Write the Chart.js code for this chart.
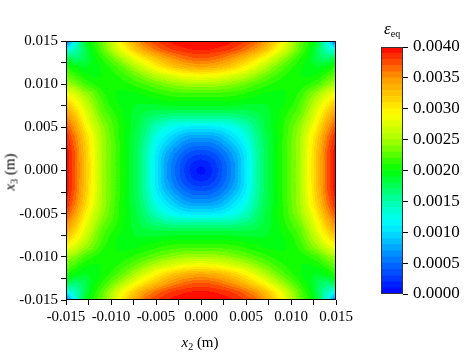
<!DOCTYPE html>
<html>
<head>
<meta charset="utf-8">
<script src="https://cdn.jsdelivr.net/npm/chart.js@4"></script>
<style>
  body { margin: 0; background: #fff; }
  #wrap { position: relative; width: 474px; height: 362px; overflow: hidden; font-family: 'Liberation Serif', 'Times New Roman', serif; color: #000; }
  canvas { position: absolute; top: 0; }
  .lbl { position: absolute; white-space: nowrap; font-size: 15px; line-height: 1; }
  .lbl sub { font-size: 10px; vertical-align: -3px; }
</style>
</head>
<body>
<div id="wrap">
  <canvas id="field" width="474" height="362" style="left:0"></canvas>
  <canvas id="cbar" width="93" height="362" style="left:381px"></canvas>
  <div class="lbl" style="left:200px; top:335px; transform:translateX(-50%)"><i>x</i><sub>2</sub> (m)</div>
  <div class="lbl" style="left:11px; top:172px; transform:translate(-50%,-50%) rotate(-90deg)"><i>x</i><sub>3</sub> (m)</div>
  <div class="lbl" style="left:384px; top:20px; font-size:17px"><i>&epsilon;</i><sub>eq</sub></div>
</div>
<script>
// grid positions of one quadrant (m), field is mirrored about x2 = 0 and x3 = 0
const quadPos = [0, 0.001, 0.002, 0.003, 0.004, 0.005, 0.006, 0.007, 0.008, 0.009, 0.010, 0.011, 0.012, 0.013, 0.014, 0.015];

// equivalent strain, in units of 1e-3
// rows: x3 = 0 .. 0.015, columns: x2 = 0 .. 0.015
const epsQuad = [
  [0.03, 0.15, 0.32, 0.52, 0.75, 1.05, 1.45, 1.70, 1.90, 2.10, 2.30, 2.50, 2.90, 3.30, 3.70, 4.00],
  [0.15, 0.21, 0.35, 0.54, 0.76, 1.05, 1.45, 1.70, 1.90, 2.10, 2.30, 2.50, 2.90, 3.30, 3.70, 4.00],
  [0.32, 0.35, 0.46, 0.62, 0.82, 1.08, 1.46, 1.70, 1.90, 2.10, 2.30, 2.50, 2.88, 3.28, 3.70, 4.00],
  [0.52, 0.54, 0.62, 0.78, 0.95, 1.16, 1.50, 1.72, 1.90, 2.10, 2.30, 2.50, 2.85, 3.25, 3.65, 3.95],
  [0.75, 0.76, 0.82, 0.95, 1.10, 1.28, 1.54, 1.75, 1.91, 2.08, 2.28, 2.48, 2.82, 3.18, 3.58, 3.90],
  [1.05, 1.05, 1.08, 1.16, 1.28, 1.42, 1.62, 1.79, 1.93, 2.08, 2.25, 2.45, 2.70, 3.05, 3.45, 3.75],
  [1.50, 1.50, 1.51, 1.52, 1.56, 1.62, 1.70, 1.81, 1.92, 2.05, 2.20, 2.35, 2.60, 2.92, 3.30, 3.60],
  [1.80, 1.80, 1.80, 1.80, 1.80, 1.80, 1.82, 1.85, 1.93, 2.02, 2.12, 2.25, 2.50, 2.80, 3.12, 3.40],
  [2.00, 2.00, 2.00, 2.00, 1.98, 1.95, 1.93, 1.92, 1.92, 1.97, 2.05, 2.20, 2.40, 2.65, 2.92, 3.15],
  [2.20, 2.20, 2.20, 2.18, 2.15, 2.10, 2.05, 2.00, 1.98, 1.98, 2.02, 2.12, 2.30, 2.45, 2.68, 2.85],
  [2.50, 2.50, 2.47, 2.42, 2.36, 2.30, 2.22, 2.15, 2.08, 2.03, 2.00, 2.02, 2.10, 2.20, 2.38, 2.50],
  [2.90, 2.88, 2.84, 2.77, 2.68, 2.58, 2.45, 2.33, 2.22, 2.12, 2.05, 2.00, 1.98, 2.03, 2.17, 2.30],
  [3.40, 3.38, 3.32, 3.23, 3.10, 2.95, 2.77, 2.58, 2.40, 2.25, 2.12, 2.02, 1.92, 1.90, 1.97, 2.10],
  [3.70, 3.68, 3.62, 3.52, 3.40, 3.25, 3.08, 2.90, 2.68, 2.47, 2.28, 2.10, 1.95, 1.75, 1.67, 1.85],
  [3.90, 3.90, 3.87, 3.82, 3.74, 3.62, 3.48, 3.28, 3.03, 2.77, 2.50, 2.25, 2.02, 1.72, 1.45, 1.25],
  [4.00, 4.00, 4.00, 3.95, 3.90, 3.80, 3.70, 3.50, 3.25, 2.95, 2.60, 2.30, 2.10, 1.85, 1.25, 0.35]
];

const axisTicks = [-0.015, -0.0125, -0.010, -0.0075, -0.005, -0.0025, 0, 0.0025, 0.005, 0.0075, 0.010, 0.0125, 0.015];
const cbarTicks = [0, 0.0005, 0.0010, 0.0015, 0.0020, 0.0025, 0.0030, 0.0035, 0.0040];
const cbarLevels = [0, 0.0001, 0.0002, 0.0003, 0.0004, 0.0005, 0.0006, 0.0007, 0.0008, 0.0009,
  0.0010, 0.0011, 0.0012, 0.0013, 0.0014, 0.0015, 0.0016, 0.0017, 0.0018, 0.0019,
  0.0020, 0.0021, 0.0022, 0.0023, 0.0024, 0.0025, 0.0026, 0.0027, 0.0028, 0.0029,
  0.0030, 0.0031, 0.0032, 0.0033, 0.0034, 0.0035, 0.0036, 0.0037, 0.0038, 0.0039, 0.0040];

// rainbow palette
const cmapStops = [0, 0.0005, 0.0010, 0.0012, 0.0015, 0.0020, 0.0025, 0.0029, 0.0035, 0.0040];
const cmapColors = [[0, 0, 255], [0, 110, 255], [0, 225, 255], [0, 255, 245], [0, 255, 170], [0, 255, 0], [170, 255, 0], [255, 255, 0], [255, 150, 0], [255, 0, 0]];

function colorAt(v) {
  if (v <= cmapStops[0]) return cmapColors[0];
  for (let i = 1; i < cmapStops.length; i++) {
    if (v <= cmapStops[i]) {
      const t = (v - cmapStops[i - 1]) / (cmapStops[i] - cmapStops[i - 1]);
      const a = cmapColors[i - 1], b = cmapColors[i];
      return [0, 1, 2].map(k => Math.round(a[k] + (b[k] - a[k]) * t));
    }
  }
  return cmapColors[cmapColors.length - 1];
}
const rgb = c => 'rgb(' + c.join(',') + ')';

// colour of the contour band a value falls in
const bandColors = cbarLevels.slice(0, -1).map((lo, i) => colorAt((lo + cbarLevels[i + 1]) / 2));
function bandColor(v) {
  let i = 0;
  while (i < bandColors.length - 1 && v >= cbarLevels[i + 1]) i++;
  return bandColors[i];
}

const FONT = "'Liberation Serif', 'Times New Roman', serif";
Chart.defaults.font.family = FONT;
Chart.defaults.color = '#000';

// value at (x2, x3): bilinear between the four surrounding grid nodes
function fieldAt(x2, x3) {
  const step = quadPos[1] - quadPos[0];
  const n = quadPos.length - 1;
  const gx = Math.min(Math.abs(x2) / step, n), gy = Math.min(Math.abs(x3) / step, n);
  const i = Math.min(Math.floor(gx), n - 1), j = Math.min(Math.floor(gy), n - 1);
  const tx = gx - i, ty = gy - j;
  const v = epsQuad[j][i] * (1 - tx) * (1 - ty) + epsQuad[j][i + 1] * tx * (1 - ty) +
            epsQuad[j + 1][i] * (1 - tx) * ty + epsQuad[j + 1][i + 1] * tx * ty;
  return v * 1e-3;
}

const fieldPlugin = {
  id: 'strainField',
  beforeDatasetsDraw(chart) {
    const { ctx, chartArea: a, scales: { x, y } } = chart;
    const w = Math.round(a.right - a.left), h = Math.round(a.bottom - a.top);
    const left = Math.round(a.left), top = Math.round(a.top);
    const off = document.createElement('canvas');
    off.width = w; off.height = h;
    const octx = off.getContext('2d');
    const img = octx.createImageData(w, h);
    for (let r = 0; r < h; r++) {
      const x3 = y.getValueForPixel(top + r + 0.5);
      for (let c = 0; c < w; c++) {
        const x2 = x.getValueForPixel(left + c + 0.5);
        const col = bandColor(fieldAt(x2, x3));
        const p = (r * w + c) * 4;
        img.data[p] = col[0]; img.data[p + 1] = col[1]; img.data[p + 2] = col[2]; img.data[p + 3] = 255;
      }
    }
    octx.putImageData(img, 0, 0);
    ctx.drawImage(off, left, top);
  }
};

const framePlugin = {
  id: 'frame',
  afterDraw(chart, args, opts) {
    const { ctx, chartArea: a } = chart;
    ctx.save();
    ctx.strokeStyle = opts.color || '#000';
    ctx.lineWidth = 1;
    ctx.strokeRect(Math.round(a.left) + 0.5, Math.round(a.top) + 0.5, Math.round(a.right - a.left) - 1, Math.round(a.bottom - a.top) - 1);
    ctx.restore();
  }
};

function axisOpts(fit) {
  return {
    type: 'linear',
    min: -0.015,
    max: 0.015,
    afterBuildTicks: s => { s.ticks = axisTicks.map(v => ({ value: v })); },
    afterFit: fit,
    ticks: {
      autoSkip: false,
      maxRotation: 0,
      padding: 3,
      font: { size: 15 },
      color: '#000',
      callback: (v, i) => (i % 2 ? '' : (Math.abs(v) < 1e-9 ? 0 : v).toFixed(3))
    },
    grid: { drawOnChartArea: false, drawTicks: true, tickLength: 5, color: '#000' },
    border: { display: false }
  };
}

new Chart(document.getElementById('field'), {
  type: 'scatter',
  data: { datasets: [{ data: [], pointRadius: 0 }] },
  options: {
    responsive: false,
    animation: false,
    layout: { padding: { top: 41, right: 138, left: 0, bottom: 0 } },
    plugins: { legend: { display: false }, tooltip: { enabled: false }, frame: { color: '#000' } },
    scales: {
      x: axisOpts(s => { s.height = 62; }),
      y: axisOpts(s => { s.width = 66; })
    }
  },
  plugins: [fieldPlugin, framePlugin]
});

new Chart(document.getElementById('cbar'), {
  type: 'bar',
  data: {
    labels: [''],
    datasets: bandColors.map((col, i) => ({
      data: [[cbarLevels[i], cbarLevels[i + 1]]],
      backgroundColor: rgb(col),
      borderWidth: 0,
      barPercentage: 1,
      categoryPercentage: 1
    }))
  },
  options: {
    responsive: false,
    animation: false,
    layout: { padding: { top: 47, bottom: 68, left: 0, right: 0 } },
    plugins: { legend: { display: false }, tooltip: { enabled: false }, frame: { color: '#333' } },
    scales: {
      x: { display: false, stacked: true },
      y: {
        position: 'right',
        min: 0,
        max: 0.004,
        afterBuildTicks: s => { s.ticks = cbarTicks.map(v => ({ value: v })); },
        afterFit: s => { s.width = 71; },
        ticks: { padding: 5, font: { size: 17 }, color: '#000', callback: v => v.toFixed(4) },
        grid: { drawOnChartArea: false, drawTicks: true, tickLength: 5, color: '#000' },
        border: { display: false }
      }
    }
  },
  plugins: [framePlugin]
});
</script>
</body>
</html>
